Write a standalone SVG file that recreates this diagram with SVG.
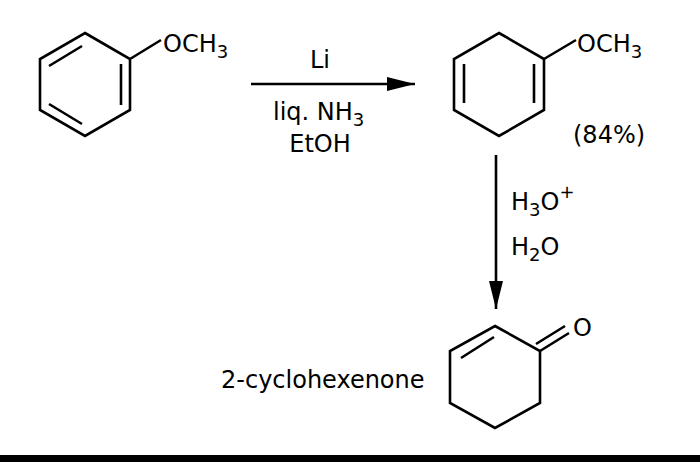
<svg xmlns="http://www.w3.org/2000/svg" width="700" height="462" viewBox="0 0 700 462">
<style>
.b{fill:none;stroke:#000;stroke-width:2.6;stroke-linejoin:miter}
.t{font-family:"DejaVu Sans",Verdana,sans-serif;font-size:24px;fill:#000}
.s{font-size:18px}
</style>
<defs>
<marker id="ah2" markerWidth="28" markerHeight="14" refX="28" refY="7" orient="auto" markerUnits="userSpaceOnUse"><path d="M0,0L28,7L0,14z"/></marker></defs>
<rect width="700" height="462" fill="#fff"/>
<g id="anisole">
<path class="b" d="M85,33L130,59L130,110L85,136L40,110L40,59Z M130,59L161,40"/>
<path class="b" d="M49,66L82,46 M121,64L121,105 M49,104L82,124"/>
<text class="t" x="163" y="52">OCH<tspan class="s" dy="6">3</tspan></text>
</g>
<g id="diene">
<path class="b" d="M499,33L544,59L544,110L499,136L454,110L454,59Z M544,59L576,40"/>
<path class="b" d="M464,64L464,103 M534,64L534,103"/>
<text class="t" x="577" y="52">OCH<tspan class="s" dy="6">3</tspan></text>
<text class="t" x="573" y="143">(84%)</text>
</g>
<g id="enone">
<path class="b" d="M495,326L540,351L540,403L495,428L450,403L450,351Z"/>
<path class="b" d="M461,358L494,337 M540,351L569,333 M536,344L565,326"/>
<text class="t" x="573" y="336">O</text>
<text class="t" x="221" y="388">2-cyclohexenone</text>
</g>
<g id="connectors">
<line class="b" x1="251" y1="84" x2="415" y2="84" marker-end="url(#ah2)"/>
<line class="b" x1="496" y1="155" x2="496" y2="309" marker-end="url(#ah2)"/>
</g>
<g id="labels">
<text class="t" x="320" y="68" text-anchor="middle">Li</text>
<text class="t" x="273" y="120">liq. NH<tspan class="s" dy="6">3</tspan></text>
<text class="t" x="320" y="152" text-anchor="middle">EtOH</text>
<text class="t" x="511" y="210">H<tspan class="s" dy="6">3</tspan><tspan dy="-6">O</tspan><tspan class="s" dy="-12">+</tspan></text>
<text class="t" x="511" y="255">H<tspan class="s" dy="6">2</tspan><tspan dy="-6">O</tspan></text>
</g>
<rect x="0" y="455" width="700" height="7" fill="#000"/>
</svg>
